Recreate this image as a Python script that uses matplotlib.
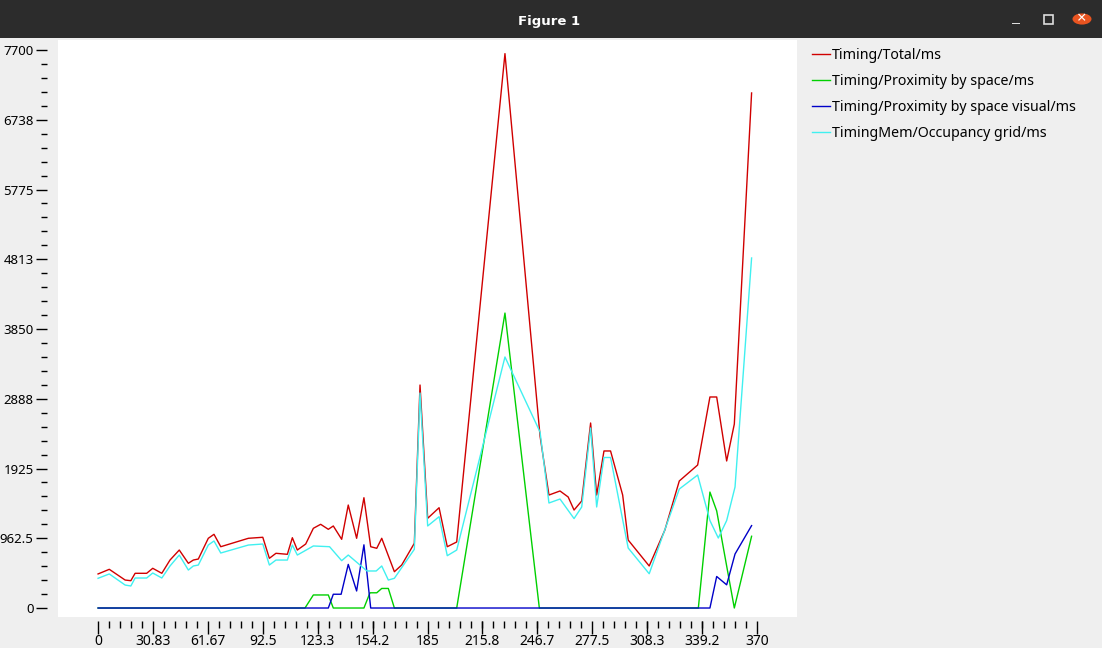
import numpy as np
import matplotlib.pyplot as plt
from matplotlib.patches import Rectangle, Circle
from matplotlib.ticker import FixedLocator, FixedFormatter

# data
red_x = [0, 6.3, 15.2, 18.4, 20.8, 27.3, 30.7, 35.8, 40.4, 45.6, 50.7, 53.5, 56.3, 61.9, 65.1, 68.9,
         84.4, 92.5, 96.2, 99.9, 106.3, 109.1, 111.9, 116.6, 120.9, 125.0, 129.3, 132.1, 136.8, 140.5,
         145.2, 149.3, 153.1, 156.5, 159.3, 166.4, 170.5, 177.6, 180.8, 185.1, 191.5, 196.1, 201.4,
         228.5, 248.2, 253.2, 259.4, 264.0, 267.3, 271.6, 276.6, 280.0, 284.1, 287.8, 294.6, 297.7,
         309.5, 318.3, 326.4, 336.7, 343.6, 347.4, 353.0, 357.3, 367.0]
red_y = [470, 534, 386, 377, 479, 479, 548, 479, 662, 800, 617, 662, 676, 962, 1017, 846,
         962, 976, 686, 755, 741, 970, 800, 883, 1100, 1155, 1086, 1132, 948, 1421,
         962, 1522, 846, 824, 962, 501, 593, 893, 3077, 1238, 1384, 846, 911,
         7650, 2374, 1559, 1615, 1532, 1352, 1477, 2553, 1559, 2167, 2167, 1559, 938,
         580, 1076, 1753, 1973, 2912, 2912, 2029, 2539, 7107]

cyan_x = [0, 6.3, 15.2, 18.4, 20.8, 27.3, 30.7, 35.8, 40.4, 45.6, 50.7, 53.5, 56.3, 61.9, 65.1, 68.9,
          84.4, 92.5, 96.2, 99.9, 106.3, 109.1, 111.9, 120.9, 130.0, 136.8, 140.5, 148.2, 151.0,
          156.2, 159.3, 163.0, 166.4, 177.6, 180.8, 185.1, 191.5, 196.1, 201.4, 228.5, 248.2,
          253.2, 259.4, 267.3, 271.6, 276.6, 280.0, 284.1, 287.8, 297.7, 309.5, 326.4, 336.7,
          343.6, 348.3, 353.0, 357.7, 367.0]
cyan_y = [410, 470, 317, 304, 414, 414, 483, 414, 580, 731, 524, 580, 593, 869, 925, 759,
          869, 883, 593, 662, 662, 869, 731, 856, 846, 653, 731, 570, 511,
          511, 580, 386, 410, 810, 2967, 1132, 1260, 722, 800, 3464, 2429,
          1449, 1504, 1234, 1394, 2484, 1394, 2077, 2077, 828, 473, 1642, 1835,
          1207, 966, 1207, 1670, 4830]

green_x = [0, 116.2, 120.9, 129.3, 132.1, 149.3, 152.7, 156.5, 159.3, 163.0, 166.4, 201.4, 228.5,
           247.8, 337.1, 343.6, 347.4, 353.0, 357.3, 367.0]
green_y = [0, 0, 180, 180, 0, 0, 210, 210, 270, 270, 0, 0, 4070, 0, 0, 1600, 1340, 580, 0, 990]

blue_x = [0, 129.3, 132.1, 136.5, 140.5, 145.2, 149.3, 153.1, 343.6, 347.4, 353.0, 357.7, 367.0]
blue_y = [0, 0, 190, 190, 602, 235, 872, 0, 0, 435, 320, 745, 1137]

series_names = ['Timing/Total/ms', 'Timing/Proximity by space/ms',
                'Timing/Proximity by space visual/ms', 'TimingMem/Occupancy grid/ms']

x_ticks = [0, 30.83, 61.67, 92.5, 123.3, 154.2, 185, 215.8, 246.7, 277.5, 308.3, 339.2, 370]
x_labels = ['0', '30.83', '61.67', '92.5', '123.3', '154.2', '185', '215.8', '246.7',
            '277.5', '308.3', '339.2', '370']
y_ticks = [0, 962.5, 1925, 2887.5, 3850, 4812.5, 5775, 6737.5, 7700]
y_labels = ['0', '962.5', '1925', '2888', '3850', '4813', '5775', '6738', '7700']

plt.rcParams['font.family'] = ['Noto Sans', 'DejaVu Sans']
fig = plt.figure(figsize=(11.02, 6.48), dpi=100, facecolor='#efefef')
W, H = 1102, 648

# window title bar
fig.patches.append(Rectangle((0, 1 - 38 / H), 1, 38 / H, transform=fig.transFigure,
                             facecolor='#2c2c2c', edgecolor='none'))
fig.text(549 / W, 1 - 21 / H, 'Figure 1', color='white', fontsize=9.5, fontweight='bold',
         family='DejaVu Sans', ha='center', va='center')
fig.patches.append(Rectangle((1012 / W, 1 - 24 / H), 8 / W, 1.5 / H, transform=fig.transFigure,
                             facecolor='#dddddd', edgecolor='none'))
fig.patches.append(Rectangle((1044 / W, 1 - 24 / H), 9 / W, 9 / H, transform=fig.transFigure,
                             facecolor='none', edgecolor='#dddddd', lw=1.2))
fig.patches.append(Circle((1082 / W, 1 - 19 / H), 9.5 / W, transform=fig.transFigure,
                          facecolor='#e95420', edgecolor='none'))
fig.text(1082 / W, 1 - 19.5 / H, '×', color='white', fontsize=12, ha='center', va='center')

ax = fig.add_axes([58 / W, 1 - 617 / H, 739 / W, 577 / H])
ax.set_facecolor('white')
l1, = ax.plot(red_x, red_y, color='#d00000', lw=1)
l2, = ax.plot(green_x, green_y, color='#00d000', lw=1)
l3, = ax.plot(blue_x, blue_y, color='#0000c8', lw=1)
l4, = ax.plot(cyan_x, cyan_y, color='#40f0f0', lw=1)
ax.set_xlim(-22.5, 392.5)
ax.set_ylim(-124, 7838)

for s in ax.spines.values():
    s.set_visible(False)
ax.spines['left'].set_position(('outward', 8))
ax.spines['bottom'].set_position(('outward', 3))
ax.xaxis.set_major_locator(FixedLocator(x_ticks))
ax.xaxis.set_major_formatter(FixedFormatter(x_labels))
ax.yaxis.set_major_locator(FixedLocator(y_ticks))
ax.yaxis.set_major_formatter(FixedFormatter(y_labels))
ax.xaxis.set_minor_locator(FixedLocator(np.linspace(0, 370, 61)))
ax.yaxis.set_minor_locator(FixedLocator(np.linspace(0, 7700, 41)))
ax.tick_params(axis='x', which='major', direction='out', length=9, width=1, color='black',
               labelsize=10, pad=0)
ax.tick_params(axis='x', which='minor', direction='out', length=5, width=1, color='black')
ax.tick_params(axis='y', which='major', direction='out', length=8, width=1, color='black',
               labelsize=9.5, pad=1.5)
ax.tick_params(axis='y', which='minor', direction='out', length=4, width=1, color='black')

fig.legend([l1, l2, l3, l4], series_names, loc='upper left',
           bbox_to_anchor=(806 / W, 1 - 42 / H), frameon=False, fontsize=10.2,
           handlelength=1.3, handletextpad=0.1, labelspacing=0.78, borderaxespad=0)

fig.savefig('out.png', dpi=100, facecolor=fig.get_facecolor())
